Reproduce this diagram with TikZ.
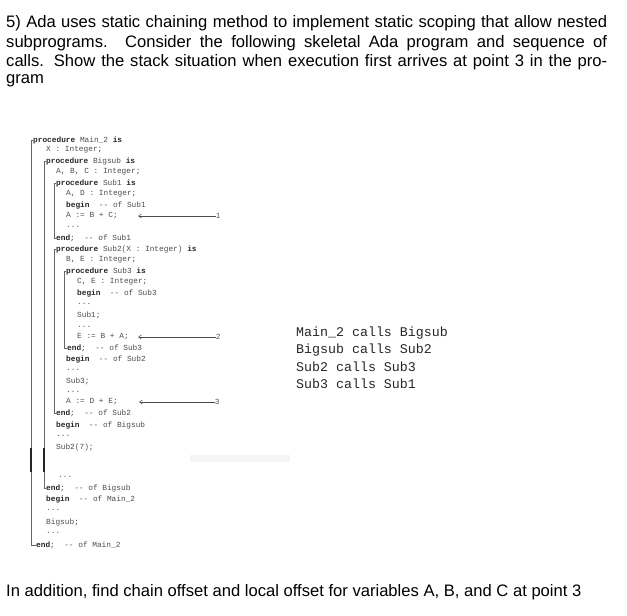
\documentclass[tikz,border=0pt]{standalone}
\usepackage{fontspec}
\setmainfont{Liberation Sans}
\setmonofont{Liberation Mono}
\usetikzlibrary{arrows.meta}
\begin{document}
\begin{tikzpicture}[x=1pt,y=-1pt,
  hd/.style={anchor=west,inner sep=0pt,font=\fontsize{16.6}{18}\selectfont},
  code/.style={anchor=west,inner sep=0pt,text=black!70,font=\ttfamily\fontsize{7.8}{9}\selectfont},
  calls/.style={anchor=west,inner sep=0pt,text=black!85,font=\ttfamily\fontsize{13.3}{15}\selectfont},
  brk/.style={draw=black!60,line width=0.8pt},
  ptr/.style={draw=black!70,line width=0.5pt,-{Straight Barb[length=3pt,width=4pt]}},
  num/.style={anchor=west,inner sep=0pt,text=black!70,font=\fontsize{7.5}{9}\selectfont}]
\useasboundingbox (0,0) rectangle (627,616);
\newcommand\kw[1]{\textbf{\textcolor{black!85}{#1}}}
\node[hd] (h1) at (6,23) {\makebox[601pt][s]{5) Ada uses static chaining method to implement static scoping that allow nested}};
\node[hd] (h2) at (6,43) {\makebox[601pt][s]{subprograms. Consider the following skeletal Ada program and sequence of}};
\node[hd] (h3) at (6,62) {\makebox[601pt][s]{calls. Show the stack situation when execution first arrives at point 3 in the pro-}};
\node[hd] (h4) at (6,81) {gram};
\node[hd] (h5) at (6,592) {In addition, find chain offset and local offset for variables A, B, and C at point 3};
\fill[black!4] (190,455) rectangle (290,462);
% code
\node[code] (c1) at (33,140) {\kw{procedure} Main\_2 \kw{is}};
\node[code] (c2) at (46,150) {X : Integer;};
\node[code] (c3) at (46,161) {\kw{procedure} Bigsub \kw{is}};
\node[code] (c4) at (56,172) {A, B, C : Integer;};
\node[code] (c5) at (56,183) {\kw{procedure} Sub1 \kw{is}};
\node[code] (c6) at (66,194) {A, D : Integer;};
\node[code] (c7) at (66,205) {\kw{begin}\ \ -- of Sub1};
\node[code] (c8) at (66,216) {A := B + C;};
\node[code] (c9) at (66,227) {...};
\node[code] (c10) at (56,238) {\kw{end};\ \ -- of Sub1};
\node[code] (c11) at (56,249) {\kw{procedure} Sub2(X : Integer) \kw{is}};
\node[code] (c12) at (66,260) {B, E : Integer;};
\node[code] (c13) at (66,271) {\kw{procedure} Sub3 \kw{is}};
\node[code] (c14) at (77,282) {C, E : Integer;};
\node[code] (c15) at (77,293) {\kw{begin}\ \ -- of Sub3};
\node[code] (c16) at (77,304) {...};
\node[code] (c17) at (77,315) {Sub1;};
\node[code] (c18) at (77,327) {...};
\node[code] (c19) at (77,337) {E := B + A;};
\node[code] (c20) at (67,348) {\kw{end};\ \ -- of Sub3};
\node[code] (c21) at (66,359) {\kw{begin}\ \ -- of Sub2};
\node[code] (c22) at (66,370) {...};
\node[code] (c23) at (66,381) {Sub3;};
\node[code] (c24) at (66,392) {...};
\node[code] (c25) at (66,402) {A := D + E;};
\node[code] (c26) at (56,413) {\kw{end};\ \ -- of Sub2};
\node[code] (c27) at (56,425) {\kw{begin}\ \ -- of Bigsub};
\node[code] (c28) at (56,436) {...};
\node[code] (c29) at (56,447) {Sub2(7);};
\node[code] (c30) at (58,477) {...};
\node[code] (c31) at (46,488) {\kw{end};\ \ -- of Bigsub};
\node[code] (c32) at (46,499) {\kw{begin}\ \ -- of Main\_2};
\node[code] (c33) at (46,510) {...};
\node[code] (c34) at (46,522) {Bigsub;};
\node[code] (c35) at (46,533) {...};
\node[code] (c36) at (36,545) {\kw{end};\ \ -- of Main\_2};
% brackets
\draw[brk] (c1.west) -- ++(-2,0) |- (c36.west);
\draw[brk] (c3.west) -- ++(-2,0) |- (c31.west);
\draw[brk] (c5.west) -- ++(-2,0) |- (c10.west);
\draw[brk] (c11.west) -- ++(-2,0) |- (c26.west);
\draw[brk] (c13.west) -- ++(-2,0) |- (c20.west);
\draw[black!85,line width=1.1pt] (31,448) -- (31,472);
\draw[black!85,line width=1.1pt] (44,448) -- (44,472);
% pointers
\node[num] (p1) at (216,216) {1};
\node[num] (p2) at (216,337) {2};
\node[num] (p3) at (215,402) {3};
\coordinate (a1) at (138,216);
\coordinate (a2) at (138,337);
\coordinate (a3) at (139,402);
\draw[ptr] (p1.west) -- (a1);
\draw[ptr] (p2.west) -- (a2);
\draw[ptr] (p3.west) -- (a3);
% calls
\node[calls] (k1) at (296,333) {Main\_2 calls Bigsub};
\node[calls] (k2) at (296,350) {Bigsub calls Sub2};
\node[calls] (k3) at (296,367) {Sub2 calls Sub3};
\node[calls] (k4) at (296,384) {Sub3 calls Sub1};
\end{tikzpicture}
\end{document}
